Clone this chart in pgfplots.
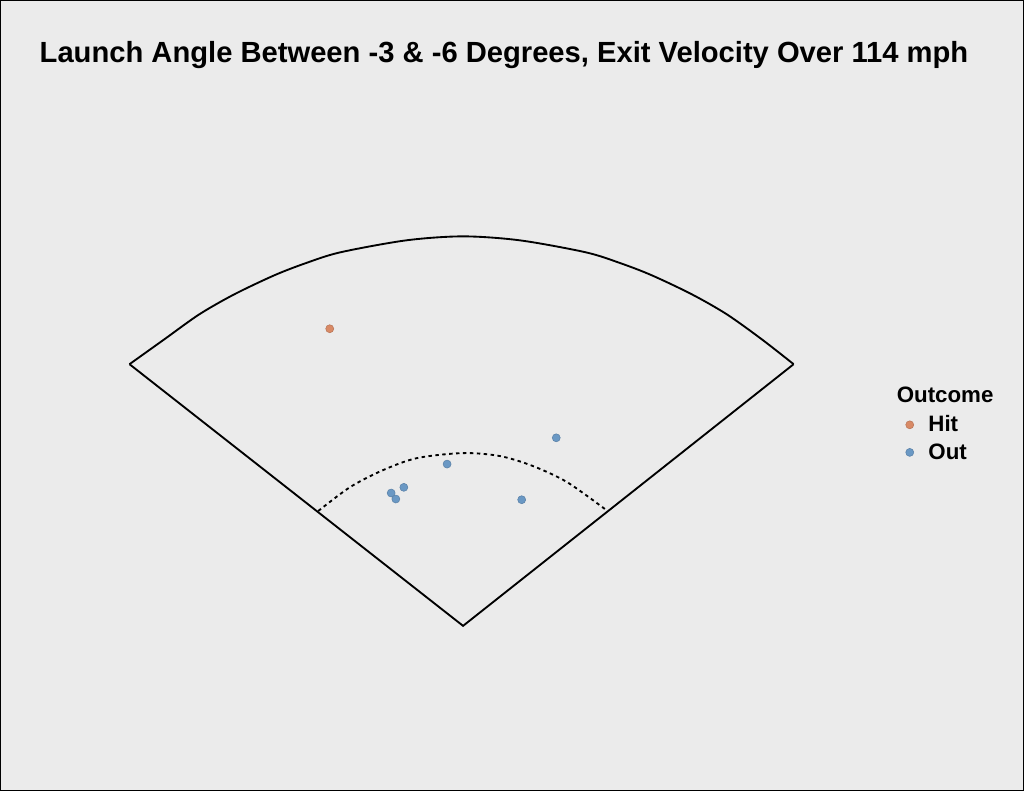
\documentclass[border=0pt]{standalone}
\usepackage{pgfplots}
\pgfplotsset{compat=1.18}
\usepackage{fontspec}
\setmainfont{Liberation Sans}
\definecolor{bgcol}{HTML}{EBEBEB}
\definecolor{hitcol}{HTML}{D98A66}
\definecolor{outcol}{HTML}{6A98C4}
\begin{document}
\begin{tikzpicture}
\begin{axis}[
  scale only axis, width=768pt, height=593.25pt,
  xmin=0, xmax=1024, ymin=0, ymax=791, y dir=reverse,
  axis lines=box, axis line style={draw=black, line width=1pt},
  ticks=none,
  axis background/.style={fill=bgcol},
  clip=false,
  legend style={draw=none, fill=none, at={(axis cs:902,410)}, anchor=north west,
    font=\bfseries\fontsize{16.75}{19}\selectfont, row sep=3.3pt,
    legend cell align=left},
  legend image code/.code={\path[draw=none,fill=none] (-3pt,0pt) -- (12pt,0pt); \draw[#1] plot coordinates {(0pt,0pt)};},
]
% outfield wall
\addplot[black, line width=1.4pt, smooth, tension=0.5, forget plot] coordinates {
(129,364) (164,339) (199,314) (234,294) (274,275) (305,263) (340,252) (406,240) (463,236)
(520,240) (586,252) (621,263) (652,275) (692,294) (727,314) (762,339) (794,364)};
% foul lines
\addplot[black, line width=1.4pt, forget plot] coordinates {(129,364) (463,626) (794,364)};
% infield arc
\addplot[black, line width=1.4pt, dash pattern=on 2.6pt off 2.6pt, smooth, forget plot] coordinates {
(318,511) (350,487) (383,470) (417,458) (463,453) (500,456) (533,466) (567,482) (605,509)};
% points
\addplot[only marks, mark=*, mark size=3pt, mark options={fill=hitcol, draw=hitcol!85!black, line width=0.4pt}] coordinates {(329.5,328.5)};
\addlegendentry{Hit}
\addplot[only marks, mark=*, mark size=3pt, mark options={fill=outcol, draw=outcol!85!black, line width=0.4pt}] coordinates {
(556.3,437.7) (447,464) (403.7,487.3) (391,493) (395.7,499) (521.7,499.7)};
\addlegendentry{Out}
\node[anchor=base west, font=\bfseries\fontsize{16.75}{19}\selectfont, inner sep=0pt] at (axis cs:897,402) {Outcome};
\node[anchor=base, font=\bfseries\fontsize{21.9}{26}\selectfont, inner sep=0pt] at (axis cs:504,62) {Launch Angle Between -3 \& -6 Degrees, Exit Velocity Over 114 mph};
\end{axis}
\end{tikzpicture}
\end{document}
